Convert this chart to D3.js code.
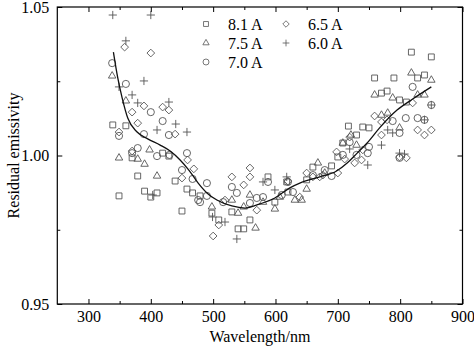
<!DOCTYPE html>
<html>
<head>
<meta charset="utf-8">
<script src="https://cdn.jsdelivr.net/npm/d3@7"></script>
<style>
  body { margin: 0; background: #fff; }
  text { font-family: "Liberation Serif", "Times New Roman", serif; }
</style>
</head>
<body>
<div id="chart"></div>
<script>
// measured points, [wavelength nm, residual emissivity]
const current81 = [
  [339, 1.0103], [360, 1.0100], [370, 0.9992], [379, 0.9931], [349, 0.9864], [390, 0.9880],
  [400, 0.9860], [410, 0.9874], [419, 1.0008], [429, 0.9998], [439, 0.9914], [450, 0.9813],
  [458, 0.9887], [467, 0.9874], [479, 0.9864], [498, 0.9806], [509, 0.9783], [530, 0.9810],
  [540, 0.9753], [549, 0.9753], [559, 0.9783], [588, 0.9928], [599, 0.9843], [618, 0.9911],
  [620, 0.9877], [650, 0.9918], [660, 0.9961], [690, 0.9965], [700, 0.9995], [708, 1.0042],
  [717, 1.0099], [730, 1.0069], [740, 1.0096], [750, 1.0093], [759, 1.0261], [790, 1.0261],
  [770, 1.0210], [779, 1.0217], [799, 1.0187], [810, 1.0180], [818, 1.0348], [850, 1.0332],
  [828, 1.0261], [839, 1.0271]
];
const current75 = [
  [338, 1.0268], [360, 1.0184], [349, 0.9992], [379, 0.9988], [390, 0.9971], [398, 1.0019],
  [410, 0.9931], [498, 0.9827], [530, 0.9850], [540, 0.9806], [549, 0.9827], [559, 0.9867],
  [568, 0.9756], [580, 0.9843], [599, 0.9820], [607, 0.9860], [631, 0.9850], [642, 0.9850],
  [650, 0.9887], [668, 0.9975], [679, 0.9941], [708, 1.0042], [730, 1.0035], [721, 1.0069],
  [759, 1.0204], [770, 1.0136], [780, 1.0143], [788, 1.0194], [799, 1.0093], [818, 1.0278],
  [828, 1.0204], [839, 1.0204], [850, 1.0254]
];
const current70 = [
  [338, 1.0311], [360, 1.0241], [400, 1.0146], [419, 1.0116], [429, 1.0069], [349, 1.0066],
  [389, 1.0072], [370, 1.0008], [379, 1.0025], [410, 0.9998], [430, 1.0002], [450, 0.9951],
  [458, 1.0008], [467, 0.9921], [476, 0.9850], [479, 0.9843], [490, 0.9907], [490, 0.9864],
  [516, 0.9843], [530, 0.9894], [538, 0.9874], [559, 0.9840], [570, 0.9857], [580, 0.9860],
  [588, 0.9911], [610, 0.9867], [620, 0.9911], [628, 0.9877], [660, 0.9934], [679, 0.9951],
  [690, 0.9931], [708, 1.0002], [719, 1.0045], [730, 1.0002], [748, 1.0008], [750, 1.0029],
  [788, 1.0116], [799, 1.0076], [809, 1.0126], [820, 1.0231], [828, 1.0126], [839, 1.0120],
  [850, 1.0170], [799, 0.9992]
];
const current65 = [
  [358, 1.0365], [400, 1.0345], [370, 1.0146], [389, 1.0167], [419, 1.0163], [429, 1.0153],
  [379, 1.0109], [439, 1.0072], [349, 1.0079], [370, 1.0015], [450, 0.9924], [459, 0.9985],
  [469, 0.9955], [509, 0.9766], [500, 0.9729], [519, 0.9850], [530, 0.9928], [549, 0.9901],
  [559, 0.9958], [559, 0.9928], [570, 0.9816], [620, 0.9914], [639, 0.9860], [650, 0.9941],
  [660, 0.9928], [671, 0.9928], [676, 0.9934], [700, 0.9941], [698, 1.0012], [711, 0.9988],
  [719, 1.0062], [727, 0.9975], [738, 0.9985], [740, 1.0019], [759, 1.0133], [770, 1.0113],
  [779, 1.0120], [770, 1.0069], [820, 1.0177], [828, 1.0086], [839, 1.0069], [850, 1.0086],
  [799, 0.9995], [810, 0.9992]
];
const current60 = [
  [339, 1.0473], [400, 1.0473], [360, 1.0386], [389, 1.0251], [349, 1.0231], [370, 1.0204],
  [379, 1.0177], [429, 1.0180], [410, 1.0086], [440, 1.0106], [458, 1.0079], [403, 0.9867],
  [499, 0.9793], [519, 0.9776], [538, 0.9719], [580, 0.9911], [599, 0.9884], [618, 0.9928],
  [719, 1.0022], [748, 0.9968], [770, 1.0035], [780, 1.0086], [788, 1.0076], [799, 1.0008],
  [807, 1.0005], [839, 1.0120], [850, 1.0170]
];

// fitted curve
const fitWavelength = [340, 347, 354, 363, 378, 395, 415, 431, 447, 461, 476, 490, 506, 530,
  551, 575, 599, 623, 639, 671, 698, 715, 731, 747, 767, 795, 820, 850];
const fitEmissivity = [1.0348, 1.0261, 1.0194, 1.0126, 1.0079, 1.0056, 1.0035, 1.0015, 0.9985,
  0.9951, 0.9907, 0.9874, 0.9850, 0.9830, 0.9823, 0.9837, 0.9857, 0.9891, 0.9907, 0.9928,
  0.9948, 0.9975, 1.0008, 1.0042, 1.0093, 1.0153, 1.0190, 1.0231];

const seriesLabels = ["8.1 A", "7.5 A", "7.0 A", "6.5 A", "6.0 A"];
const xTicks = [300, 400, 500, 600, 700, 800, 900];
const xMinorTicks = [350, 450, 550, 650, 750, 850];
const yTicks = [0.95, 1.00, 1.05];
const yMinorTicks = [0.975, 1.025];

const width = 474, height = 354;
const plotL = 57.3, plotR = 462.5, plotT = 7, plotB = 304;
const ink = "#555";

const svg = d3.select("#chart").append("svg")
    .attr("width", width)
    .attr("height", height);

const x = d3.scaleLinear().domain([250, 900]).range([plotL, plotR]);
const y = d3.scaleLinear().domain([0.95, 1.05]).range([plotB, plotT]);

const sym = (a, b) => a || b;
const series = [
  { label: seriesLabels[0], data: current81, type: sym(d3.symbolSquare2, d3.symbolSquare), size: 44 },
  { label: seriesLabels[1], data: current75, type: sym(d3.symbolTriangle2, d3.symbolTriangle), size: 40 },
  { label: seriesLabels[2], data: current70, type: d3.symbolCircle, size: 40 },
  { label: seriesLabels[3], data: current65, type: sym(d3.symbolDiamond2, d3.symbolDiamond), size: 38 },
  { label: seriesLabels[4], data: current60, type: sym(d3.symbolPlus, d3.symbolCross), size: 24 }
];

// axes: ticks point inward on all four sides
function addAxis(axis, tx, ty) {
  const g = svg.append("g").attr("transform", `translate(${tx},${ty})`).call(axis);
  g.select(".domain").remove();
  g.selectAll("line").attr("stroke", "#000");
  g.selectAll("text").attr("font-size", 16).attr("fill", "#000")
    .attr("font-family", '"Liberation Serif", "Times New Roman", serif');
  return g;
}

addAxis(d3.axisBottom(x).tickValues(xTicks).tickSizeInner(-5).tickSizeOuter(0).tickPadding(7), 0, plotB);
addAxis(d3.axisBottom(x).tickValues(xMinorTicks).tickSizeInner(-3).tickSizeOuter(0).tickFormat(""), 0, plotB);
addAxis(d3.axisTop(x).tickValues(xTicks).tickSizeInner(-5).tickSizeOuter(0).tickFormat(""), 0, plotT);
addAxis(d3.axisTop(x).tickValues(xMinorTicks).tickSizeInner(-3).tickSizeOuter(0).tickFormat(""), 0, plotT);
addAxis(d3.axisLeft(y).tickValues(yTicks).tickSizeInner(-5).tickSizeOuter(0).tickPadding(8)
  .tickFormat(d3.format(".2f")), plotL, 0);
addAxis(d3.axisLeft(y).tickValues(yMinorTicks).tickSizeInner(-3).tickSizeOuter(0).tickFormat(""), plotL, 0);
addAxis(d3.axisRight(y).tickValues(yTicks).tickSizeInner(-5).tickSizeOuter(0).tickFormat(""), plotR, 0);
addAxis(d3.axisRight(y).tickValues(yMinorTicks).tickSizeInner(-3).tickSizeOuter(0).tickFormat(""), plotR, 0);

svg.append("rect")
    .attr("x", plotL).attr("y", plotT)
    .attr("width", plotR - plotL).attr("height", plotB - plotT)
    .attr("fill", "none").attr("stroke", "#000").attr("stroke-width", 1.2);

// scatter
series.forEach(s => {
  svg.append("g").selectAll("path")
    .data(s.data)
    .join("path")
      .attr("transform", d => `translate(${x(d[0])},${y(d[1])})`)
      .attr("d", d3.symbol().type(s.type).size(s.size))
      .attr("fill", "none")
      .attr("stroke", ink)
      .attr("stroke-width", 0.9);
});

// fit line
const line = d3.line()
    .x((d, i) => x(fitWavelength[i]))
    .y(d => y(d))
    .curve(d3.curveMonotoneX);

svg.append("path")
    .attr("d", line(fitEmissivity))
    .attr("fill", "none")
    .attr("stroke", "#111")
    .attr("stroke-width", 1.3);

// legend, two columns
const legendPos = [[206, 24], [206, 43], [206, 62], [286, 24], [286, 43]];
const legend = svg.append("g");
series.forEach((s, i) => {
  const [lx, ly] = legendPos[i];
  legend.append("path")
      .attr("transform", `translate(${lx},${ly})`)
      .attr("d", d3.symbol().type(s.type).size(s.size * 0.7))
      .attr("fill", "none")
      .attr("stroke", ink)
      .attr("stroke-width", 0.8);
  legend.append("text")
      .attr("x", lx + 22)
      .attr("y", ly + 5.5)
      .attr("font-size", 16)
      .text(s.label);
});

// axis titles
svg.append("text")
    .attr("x", (plotL + plotR) / 2)
    .attr("y", 342)
    .attr("text-anchor", "middle")
    .attr("font-size", 16)
    .text("Wavelength/nm");

svg.append("text")
    .attr("transform", `translate(19,${(plotT + plotB) / 2}) rotate(-90)`)
    .attr("text-anchor", "middle")
    .attr("font-size", 16)
    .text("Residual emissivity");
</script>
</body>
</html>
